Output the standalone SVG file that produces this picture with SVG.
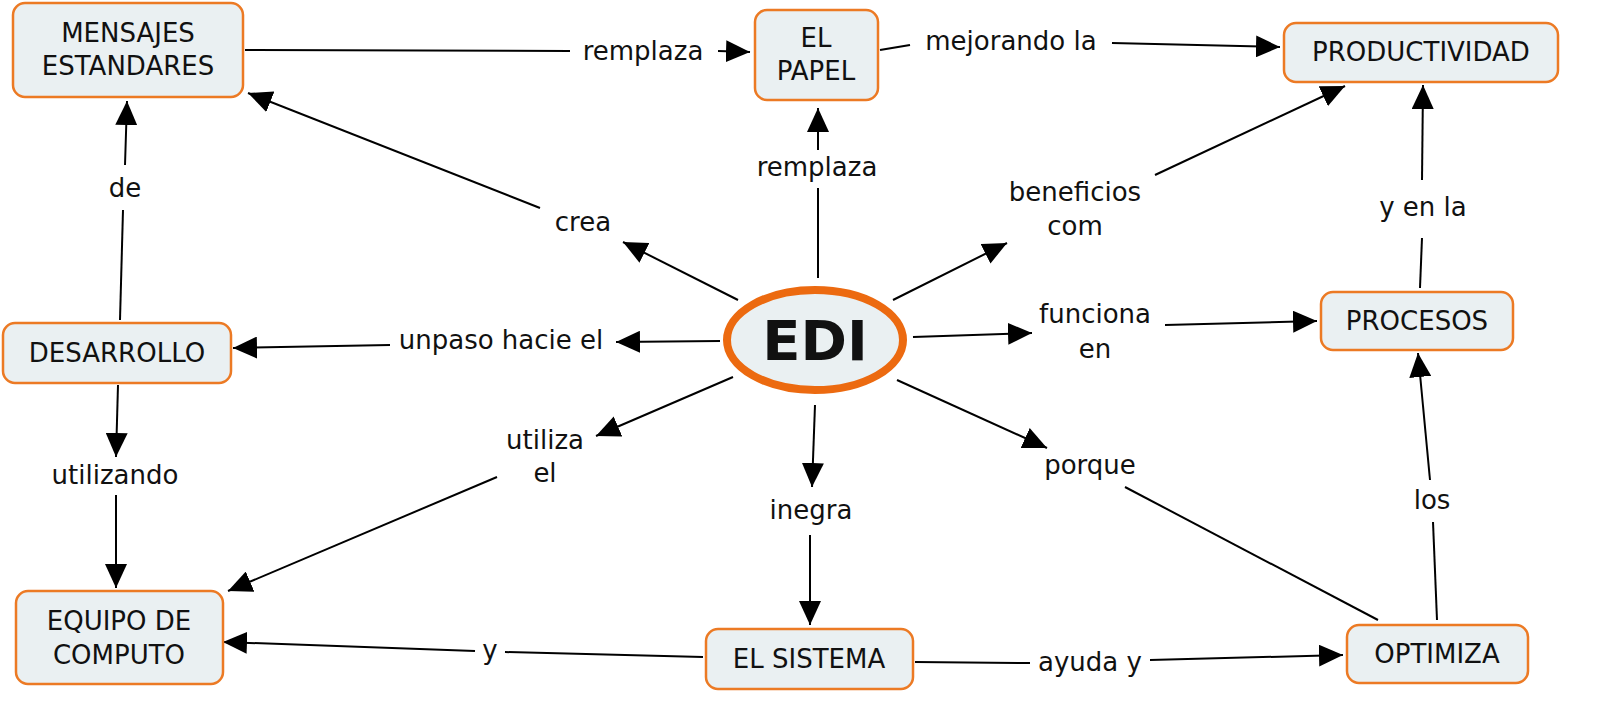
<svg xmlns="http://www.w3.org/2000/svg" width="1600" height="706" viewBox="0 0 1600 706">
<style>
.n rect{fill:#eaf0f2;stroke:#ec7a24;stroke-width:2.5}
text{font-family:"DejaVu Sans",Verdana,sans-serif;font-size:26px;fill:#111;text-anchor:middle}
.c line{stroke:#000;stroke-width:2}
.a{marker-end:url(#ah)}
</style>
<defs>
<marker id="ah" markerUnits="userSpaceOnUse" markerWidth="26" markerHeight="22" refX="24" refY="11" orient="auto">
<path d="M0,0 L24,11 L0,22 Z" fill="#000"/>
</marker>
</defs>
<rect width="1600" height="706" fill="#fff"/>
<g class="c">
<line x1="245" y1="50" x2="570" y2="51"/><line class="a" x1="718" y1="51" x2="750" y2="52"/>
<line x1="880" y1="50" x2="910" y2="45"/><line class="a" x1="1112" y1="43" x2="1280" y2="47"/>
<line x1="818" y1="278" x2="818" y2="188"/><line class="a" x1="818" y1="150" x2="818" y2="108"/>
<line class="a" x1="738" y1="300" x2="623" y2="242"/><line class="a" x1="540" y1="208" x2="248" y2="93"/>
<line class="a" x1="893" y1="300" x2="1007" y2="243"/><line class="a" x1="1155" y1="175" x2="1345" y2="86"/>
<line class="a" x1="913" y1="337" x2="1032" y2="333"/><line class="a" x1="1165" y1="325" x2="1317" y2="321"/>
<line x1="1420" y1="288" x2="1422" y2="238"/><line class="a" x1="1422" y1="180" x2="1423" y2="85"/>
<line class="a" x1="720" y1="341" x2="616" y2="342"/><line class="a" x1="390" y1="345" x2="233" y2="348"/>
<line x1="120" y1="320" x2="123" y2="210"/><line class="a" x1="125" y1="165" x2="127" y2="101"/>
<line class="a" x1="118" y1="385" x2="116" y2="457"/><line class="a" x1="116" y1="495" x2="116" y2="588"/>
<line class="a" x1="733" y1="377" x2="596" y2="436"/><line class="a" x1="497" y1="477" x2="228" y2="591"/>
<line class="a" x1="815" y1="405" x2="812" y2="487"/><line class="a" x1="810" y1="535" x2="810" y2="625"/>
<line class="a" x1="897" y1="380" x2="1047" y2="448"/><line x1="1125" y1="487" x2="1378" y2="620"/>
<line x1="1437" y1="620" x2="1433" y2="522"/><line class="a" x1="1430" y1="480" x2="1418" y2="353"/>
<line x1="703" y1="657" x2="505" y2="652"/><line class="a" x1="475" y1="651" x2="223" y2="642"/>
<line x1="915" y1="662" x2="1030" y2="663"/><line class="a" x1="1150" y1="660" x2="1343" y2="655"/>
</g>
<g id="labels">
<text x="643" y="60">remplaza</text>
<text x="1011" y="50">mejorando la</text>
<text x="817" y="176">remplaza</text>
<text x="583" y="231">crea</text>
<text x="1075" y="201">beneficios</text>
<text x="1075" y="235">com</text>
<text x="1095" y="323">funciona</text>
<text x="1095" y="358">en</text>
<text x="1423" y="216">y en la</text>
<text x="501" y="349">unpaso hacie el</text>
<text x="125" y="197">de</text>
<text x="115" y="484">utilizando</text>
<text x="545" y="449">utiliza</text>
<text x="545" y="482">el</text>
<text x="811" y="519">inegra</text>
<text x="1090" y="474">porque</text>
<text x="1432" y="509">los</text>
<text x="490" y="659">y</text>
<text x="1090" y="671">ayuda y</text>
</g>
<g id="mensajes" class="n"><rect x="13" y="3" width="230" height="94" rx="12"/><text x="128" y="42">MENSAJES</text><text x="128" y="75">ESTANDARES</text></g>
<g id="papel" class="n"><rect x="755" y="10" width="123" height="90" rx="12"/><text x="816" y="47">EL</text><text x="816" y="80">PAPEL</text></g>
<g id="productividad" class="n"><rect x="1284" y="23" width="274" height="59" rx="12"/><text x="1421" y="61">PRODUCTIVIDAD</text></g>
<g id="desarrollo" class="n"><rect x="3" y="323" width="228" height="60" rx="12"/><text x="117" y="362">DESARROLLO</text></g>
<g id="procesos" class="n"><rect x="1321" y="292" width="192" height="58" rx="12"/><text x="1417" y="330">PROCESOS</text></g>
<g id="equipo" class="n"><rect x="16" y="591" width="207" height="93" rx="12"/><text x="119" y="630">EQUIPO DE</text><text x="119" y="664">COMPUTO</text></g>
<g id="sistema" class="n"><rect x="706" y="629" width="207" height="60" rx="12"/><text x="809" y="668">EL SISTEMA</text></g>
<g id="optimiza" class="n"><rect x="1347" y="625" width="181" height="58" rx="12"/><text x="1437" y="663">OPTIMIZA</text></g>
<g id="edi"><ellipse cx="815" cy="340" rx="88" ry="50" fill="#eaf0f2" stroke="#ec6a10" stroke-width="8"/><text x="815" y="360" style="font-size:56px;font-weight:bold">EDI</text></g>
</svg>
